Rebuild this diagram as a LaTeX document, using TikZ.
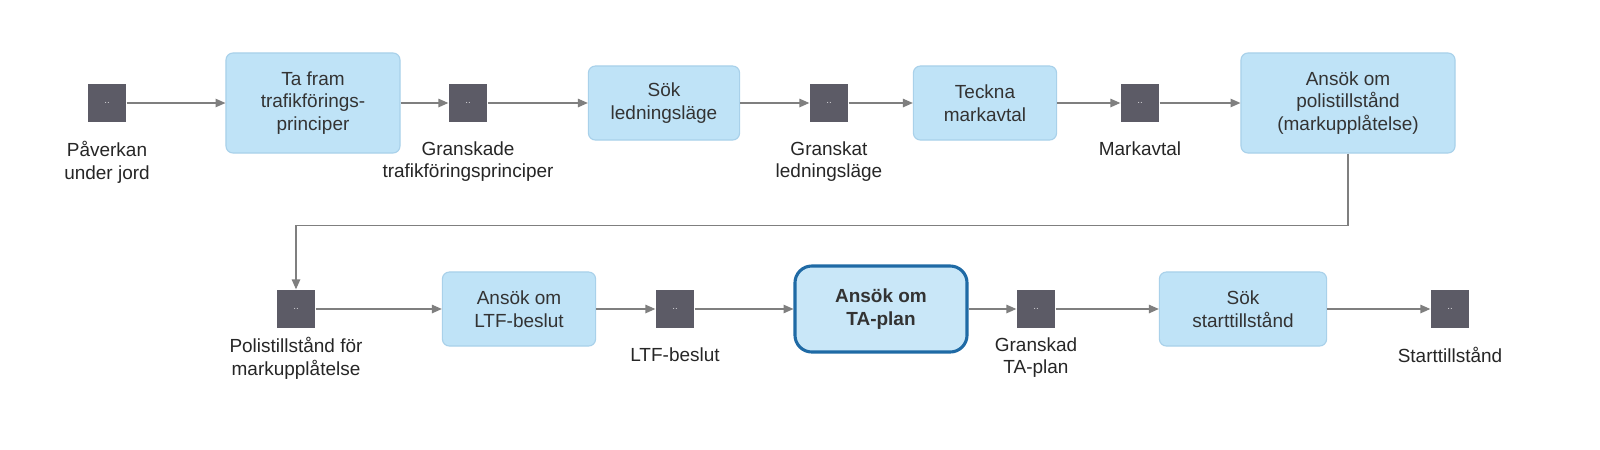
\documentclass[tikz,border=0pt]{standalone}
\usepackage{fontspec}
\setmainfont{Liberation Sans}
\usetikzlibrary{arrows.meta,positioning}
\definecolor{boxfill}{HTML}{BFE3F7}
\definecolor{boxline}{HTML}{A9D1EA}
\definecolor{sqfill}{HTML}{5C5B66}
\definecolor{pilgray}{HTML}{7F7F7F}
\definecolor{hiline}{HTML}{1F6AA5}
\tikzset{
	%Define standard arrow tip
	>={Triangle[length=7pt,width=6pt]},
	%Define style for boxes
	steg/.style={
		rectangle,
		rounded corners=5pt,
		fill=boxfill, draw=boxline, thick,
		align=center,
		font=\fontsize{13.5}{16}\selectfont,
		text=black!80},
	obj/.style={
		rectangle,
		fill=sqfill, draw=none,
		minimum width=0.97cm, minimum height=0.97cm,
		text=white!75!sqfill, font=\scriptsize, inner sep=0pt},
	mylabel/.style={align=center, font=\fontsize{13.5}{16}\selectfont, text=black!85},
	% Define arrow style
	pil/.style={->, draw=pilgray, thick}
}
\begin{document}
\begin{tikzpicture}[x=0.025cm,y=-0.025cm]
	\fill[white] (0,0) rectangle (1600,449);
	% row 1
	\node[obj] (o1) at (107,103) {..};
	\node[steg, minimum width=4.35cm, minimum height=2.5cm] (b1) at (313,103) {Ta fram\\trafikförings-\\principer};
	\node[obj] (o2) at (468,103) {..};
	\node[steg, minimum width=3.78cm, minimum height=1.85cm] (b2) at (664,103) {Sök\\ledningsläge};
	\node[obj] (o3) at (829,103) {..};
	\node[steg, minimum width=3.58cm, minimum height=1.85cm] (b3) at (985,103) {Teckna\\markavtal};
	\node[obj] (o4) at (1140,103) {..};
	\node[steg, minimum width=5.35cm, minimum height=2.5cm] (b4) at (1348,103) {Ansök om\\polistillstånd\\(markupplåtelse)};
	% row 2
	\node[obj] (o5) at (296,309) {..};
	\node[steg, minimum width=3.83cm, minimum height=1.85cm] (b5) at (519,309) {Ansök om\\LTF-beslut};
	\node[obj] (o6) at (675,309) {..};
	\node[steg, draw=hiline, line width=2.2pt, rounded corners=12pt, fill=boxfill!85!white, minimum width=4.3cm, minimum height=2.15cm, font=\fontsize{13.5}{16}\selectfont\bfseries] (b6) at (881,309) {Ansök om\\TA-plan};
	\node[obj] (o7) at (1036,309) {..};
	\node[steg, minimum width=4.18cm, minimum height=1.85cm] (b7) at (1243,309) {Sök\\starttillstånd};
	\node[obj] (o8) at (1450,309) {..};
	% labels
	\node[mylabel, below=0.35cm of o1] {Påverkan\\under jord};
	\node[mylabel, below=0.35cm of o2] {Granskade\\trafikföringsprinciper};
	\node[mylabel, below=0.35cm of o3] {Granskat\\ledningsläge};
	\node[mylabel, below=0.35cm of o4] {Markavtal};
	\node[mylabel, below=0.1cm of o5] {Polistillstånd för\\markupplåtelse};
	\node[mylabel, below=0.35cm of o6] {LTF-beslut};
	\node[mylabel, below=0.1cm of o7] {Granskad\\TA-plan};
	\node[mylabel, below=0.35cm of o8] {Starttillstånd};
	% arrows
	\draw[pil] (o1) -- (b1);
	\draw[pil] (b1) -- (o2);
	\draw[pil] (o2) -- (b2);
	\draw[pil] (b2) -- (o3);
	\draw[pil] (o3) -- (b3);
	\draw[pil] (b3) -- (o4);
	\draw[pil] (o4) -- (b4);
	\draw[pil] (b4.south) -- ++(0,72) -| (o5.north);
	\draw[pil] (o5) -- (b5);
	\draw[pil] (b5) -- (o6);
	\draw[pil] (o6) -- (b6);
	\draw[pil] (b6) -- (o7);
	\draw[pil] (o7) -- (b7);
	\draw[pil] (b7) -- (o8);
	\pgfresetboundingbox
	\path (0,0) rectangle (1600,449);
\end{tikzpicture}
\end{document}
